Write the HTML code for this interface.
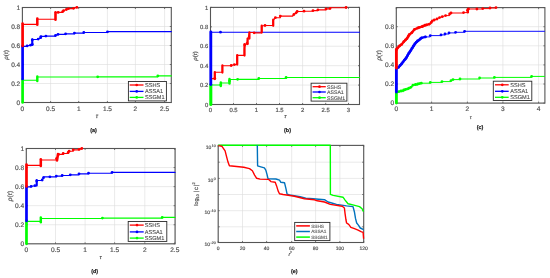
<!DOCTYPE html>
<html><head><meta charset="utf-8"><title>Performance profiles</title>
<style>
html,body{margin:0;padding:0;background:#fff;}
body{width:550px;height:278px;overflow:hidden;}
svg{display:block;font-family:"Liberation Sans", Arial, sans-serif;text-rendering:geometricPrecision;}
text{stroke:#5a5a5a;stroke-width:0.2px;}
text.cap{stroke:#222;}
text.lg{stroke:#666;stroke-width:0.12px;}
</style></head>
<body>
<svg width="550" height="278" viewBox="0 0 550 278">
<rect width="550" height="278" fill="#fff"/>
<line x1="22.4" y1="7.5" x2="22.4" y2="102.5" stroke="#dcdcdc" stroke-width="0.6"/>
<line x1="50.6" y1="7.5" x2="50.6" y2="102.5" stroke="#dcdcdc" stroke-width="0.6"/>
<line x1="78.7" y1="7.5" x2="78.7" y2="102.5" stroke="#dcdcdc" stroke-width="0.6"/>
<line x1="107.4" y1="7.5" x2="107.4" y2="102.5" stroke="#dcdcdc" stroke-width="0.6"/>
<line x1="135.4" y1="7.5" x2="135.4" y2="102.5" stroke="#dcdcdc" stroke-width="0.6"/>
<line x1="164.6" y1="7.5" x2="164.6" y2="102.5" stroke="#dcdcdc" stroke-width="0.6"/>
<line x1="22.4" y1="102.5" x2="171.3" y2="102.5" stroke="#dcdcdc" stroke-width="0.6"/>
<line x1="22.4" y1="83.5" x2="171.3" y2="83.5" stroke="#dcdcdc" stroke-width="0.6"/>
<line x1="22.4" y1="64.5" x2="171.3" y2="64.5" stroke="#dcdcdc" stroke-width="0.6"/>
<line x1="22.4" y1="45.5" x2="171.3" y2="45.5" stroke="#dcdcdc" stroke-width="0.6"/>
<line x1="22.4" y1="26.5" x2="171.3" y2="26.5" stroke="#dcdcdc" stroke-width="0.6"/>
<line x1="22.4" y1="7.5" x2="171.3" y2="7.5" stroke="#dcdcdc" stroke-width="0.6"/>
<rect x="22.4" y="7.5" width="148.9" height="95" fill="none" stroke="#555555" stroke-width="1.1"/>
<line x1="22.4" y1="102.5" x2="22.4" y2="101" stroke="#555555" stroke-width="0.8"/>
<line x1="22.4" y1="7.5" x2="22.4" y2="9" stroke="#555555" stroke-width="0.8"/>
<line x1="50.6" y1="102.5" x2="50.6" y2="101" stroke="#555555" stroke-width="0.8"/>
<line x1="50.6" y1="7.5" x2="50.6" y2="9" stroke="#555555" stroke-width="0.8"/>
<line x1="78.7" y1="102.5" x2="78.7" y2="101" stroke="#555555" stroke-width="0.8"/>
<line x1="78.7" y1="7.5" x2="78.7" y2="9" stroke="#555555" stroke-width="0.8"/>
<line x1="107.4" y1="102.5" x2="107.4" y2="101" stroke="#555555" stroke-width="0.8"/>
<line x1="107.4" y1="7.5" x2="107.4" y2="9" stroke="#555555" stroke-width="0.8"/>
<line x1="135.4" y1="102.5" x2="135.4" y2="101" stroke="#555555" stroke-width="0.8"/>
<line x1="135.4" y1="7.5" x2="135.4" y2="9" stroke="#555555" stroke-width="0.8"/>
<line x1="164.6" y1="102.5" x2="164.6" y2="101" stroke="#555555" stroke-width="0.8"/>
<line x1="164.6" y1="7.5" x2="164.6" y2="9" stroke="#555555" stroke-width="0.8"/>
<line x1="22.4" y1="102.5" x2="23.9" y2="102.5" stroke="#555555" stroke-width="0.8"/>
<line x1="171.3" y1="102.5" x2="169.8" y2="102.5" stroke="#555555" stroke-width="0.8"/>
<line x1="22.4" y1="83.5" x2="23.9" y2="83.5" stroke="#555555" stroke-width="0.8"/>
<line x1="171.3" y1="83.5" x2="169.8" y2="83.5" stroke="#555555" stroke-width="0.8"/>
<line x1="22.4" y1="64.5" x2="23.9" y2="64.5" stroke="#555555" stroke-width="0.8"/>
<line x1="171.3" y1="64.5" x2="169.8" y2="64.5" stroke="#555555" stroke-width="0.8"/>
<line x1="22.4" y1="45.5" x2="23.9" y2="45.5" stroke="#555555" stroke-width="0.8"/>
<line x1="171.3" y1="45.5" x2="169.8" y2="45.5" stroke="#555555" stroke-width="0.8"/>
<line x1="22.4" y1="26.5" x2="23.9" y2="26.5" stroke="#555555" stroke-width="0.8"/>
<line x1="171.3" y1="26.5" x2="169.8" y2="26.5" stroke="#555555" stroke-width="0.8"/>
<line x1="22.4" y1="7.5" x2="23.9" y2="7.5" stroke="#555555" stroke-width="0.8"/>
<line x1="171.3" y1="7.5" x2="169.8" y2="7.5" stroke="#555555" stroke-width="0.8"/>
<polyline points="22.6,102.5 22.6,80.2 37.3,80.2 37.3,77 97.7,77 97.7,76.8 157.8,76.8 157.8,75.9 171.4,75.9 171.4,75.6" fill="none" stroke="#00ff00" stroke-width="1.15" stroke-linejoin="round"/>
<line x1="22.6" y1="102.5" x2="22.6" y2="79.3" stroke="#00ff00" stroke-width="2.65" stroke-linecap="round"/>
<line x1="37.3" y1="81" x2="37.3" y2="76.5" stroke="#00ff00" stroke-width="2.45" stroke-linecap="round"/>
<circle cx="97.7" cy="76.8" r="1.4" fill="#00ff00"/>
<circle cx="157.8" cy="75.9" r="1.4" fill="#00ff00"/>
<polyline points="22.6,79 22.6,46.4 27.1,46.4 27.1,45.9 30.5,45.2 32.3,44.5 32.3,39.5 38.2,39.5 38.2,39.1 40.7,37.7 40.7,36.4 45.9,36.4 45.9,36.1 55.5,36.1 55.5,35.5 58,34.4 65.6,34.4 65.6,33.8 74.4,33.8 74.4,33.1 83.8,33.1 83.8,32.5 107.5,32.5 107.5,31.6 171.4,31.6 171.4,31.3" fill="none" stroke="#0000ff" stroke-width="1.15" stroke-linejoin="round"/>
<line x1="22.6" y1="79" x2="22.6" y2="45.8" stroke="#0000ff" stroke-width="2.65" stroke-linecap="round"/>
<line x1="32.3" y1="44.8" x2="32.3" y2="39.3" stroke="#0000ff" stroke-width="2.05" stroke-linecap="round"/>
<circle cx="22.8" cy="46.4" r="1.4" fill="#0000ff"/>
<circle cx="27.1" cy="45.9" r="1.4" fill="#0000ff"/>
<circle cx="30.5" cy="45.2" r="1.4" fill="#0000ff"/>
<circle cx="32.3" cy="44.5" r="1.4" fill="#0000ff"/>
<circle cx="32.3" cy="40" r="1.4" fill="#0000ff"/>
<circle cx="38.2" cy="39.1" r="1.4" fill="#0000ff"/>
<circle cx="40.7" cy="37.7" r="1.4" fill="#0000ff"/>
<circle cx="40.9" cy="36.6" r="1.4" fill="#0000ff"/>
<circle cx="45.9" cy="36.1" r="1.4" fill="#0000ff"/>
<circle cx="55.5" cy="35.5" r="1.4" fill="#0000ff"/>
<circle cx="58" cy="34.4" r="1.4" fill="#0000ff"/>
<circle cx="65.6" cy="33.8" r="1.4" fill="#0000ff"/>
<circle cx="74.4" cy="33.1" r="1.4" fill="#0000ff"/>
<circle cx="83.8" cy="32.5" r="1.4" fill="#0000ff"/>
<circle cx="107.5" cy="31.8" r="1.4" fill="#0000ff"/>
<polyline points="22.6,46 22.6,24.3 37.3,24.3 37.3,19.2 55.5,19.2 55.5,12.6 58.2,12.4 62.7,12.4 62.7,11.6 63.6,10.7 66.4,9.5 68.6,8.6 73.6,8.6 73.6,8.3 76.8,7.4 78.2,7.4" fill="none" stroke="#ff0000" stroke-width="1.15" stroke-linejoin="round"/>
<line x1="22.6" y1="46" x2="22.6" y2="23.5" stroke="#ff0000" stroke-width="2.65" stroke-linecap="round"/>
<line x1="37.3" y1="24.8" x2="37.3" y2="18.4" stroke="#ff0000" stroke-width="2.55" stroke-linecap="round"/>
<line x1="55.5" y1="19.8" x2="55.5" y2="12.2" stroke="#ff0000" stroke-width="2.55" stroke-linecap="round"/>
<circle cx="58.2" cy="12.4" r="1.4" fill="#ff0000"/>
<circle cx="62.7" cy="11.6" r="1.4" fill="#ff0000"/>
<circle cx="63.6" cy="10.7" r="1.4" fill="#ff0000"/>
<circle cx="66.4" cy="9.5" r="1.4" fill="#ff0000"/>
<circle cx="68.6" cy="8.6" r="1.4" fill="#ff0000"/>
<circle cx="73.6" cy="8.3" r="1.4" fill="#ff0000"/>
<circle cx="76.8" cy="7.4" r="1.4" fill="#ff0000"/>
<text x="22.4" y="110.67" font-size="6.5" text-anchor="middle" fill="#505050">0</text>
<text x="50.6" y="110.67" font-size="6.5" text-anchor="middle" fill="#505050">0.5</text>
<text x="78.7" y="110.67" font-size="6.5" text-anchor="middle" fill="#505050">1</text>
<text x="107.4" y="110.67" font-size="6.5" text-anchor="middle" fill="#505050">1.5</text>
<text x="135.4" y="110.67" font-size="6.5" text-anchor="middle" fill="#505050">2</text>
<text x="164.6" y="110.67" font-size="6.5" text-anchor="middle" fill="#505050">2.5</text>
<text x="20.2" y="104.84" font-size="6.5" text-anchor="end" fill="#505050">0</text>
<text x="20.2" y="85.84" font-size="6.5" text-anchor="end" fill="#505050">0.2</text>
<text x="20.2" y="66.84" font-size="6.5" text-anchor="end" fill="#505050">0.4</text>
<text x="20.2" y="47.84" font-size="6.5" text-anchor="end" fill="#505050">0.6</text>
<text x="20.2" y="28.84" font-size="6.5" text-anchor="end" fill="#505050">0.8</text>
<text x="20.2" y="9.84" font-size="6.5" text-anchor="end" fill="#505050">1</text>
<text x="0" y="0" font-size="6" text-anchor="middle" fill="#505050" transform="translate(8.3,54.8) rotate(-90)"><tspan font-style="italic">&#961;</tspan>(<tspan font-style="italic">&#964;</tspan>)</text>
<text x="96.9" y="118.3" font-size="6" text-anchor="middle" fill="#505050" font-style="italic">&#964;</text>
<text x="93.55" y="131.65" font-size="5.4" text-anchor="middle" fill="#222" font-weight="bold" class="cap">(a)</text>
<rect x="128.4" y="81.5" width="38" height="19.4" fill="#fff" stroke="#2a2a2a" stroke-width="0.9"/>
<line x1="129.7" y1="85" x2="143.5" y2="85" stroke="#ff0000" stroke-width="1.3"/>
<circle cx="136.7" cy="85" r="1.35" fill="#ff0000"/>
<text x="145" y="87.02" font-size="5.6" text-anchor="start" fill="#4a4a4a" class="lg">SSHS</text>
<line x1="129.7" y1="91.4" x2="143.5" y2="91.4" stroke="#0000ff" stroke-width="1.3"/>
<circle cx="136.7" cy="91.4" r="1.35" fill="#0000ff"/>
<text x="145" y="93.42" font-size="5.6" text-anchor="start" fill="#4a4a4a" class="lg">ASSA1</text>
<line x1="129.7" y1="97.4" x2="143.5" y2="97.4" stroke="#00ff00" stroke-width="1.3"/>
<circle cx="136.7" cy="97.4" r="1.35" fill="#00ff00"/>
<text x="145" y="99.42" font-size="5.6" text-anchor="start" fill="#4a4a4a" class="lg">SSGM1</text>
<line x1="210.5" y1="7.4" x2="210.5" y2="104.5" stroke="#dcdcdc" stroke-width="0.6"/>
<line x1="233.5" y1="7.4" x2="233.5" y2="104.5" stroke="#dcdcdc" stroke-width="0.6"/>
<line x1="256.5" y1="7.4" x2="256.5" y2="104.5" stroke="#dcdcdc" stroke-width="0.6"/>
<line x1="279.5" y1="7.4" x2="279.5" y2="104.5" stroke="#dcdcdc" stroke-width="0.6"/>
<line x1="302.6" y1="7.4" x2="302.6" y2="104.5" stroke="#dcdcdc" stroke-width="0.6"/>
<line x1="325.7" y1="7.4" x2="325.7" y2="104.5" stroke="#dcdcdc" stroke-width="0.6"/>
<line x1="348.5" y1="7.4" x2="348.5" y2="104.5" stroke="#dcdcdc" stroke-width="0.6"/>
<line x1="210.5" y1="104.5" x2="359.5" y2="104.5" stroke="#dcdcdc" stroke-width="0.6"/>
<line x1="210.5" y1="85.08" x2="359.5" y2="85.08" stroke="#dcdcdc" stroke-width="0.6"/>
<line x1="210.5" y1="65.66" x2="359.5" y2="65.66" stroke="#dcdcdc" stroke-width="0.6"/>
<line x1="210.5" y1="46.24" x2="359.5" y2="46.24" stroke="#dcdcdc" stroke-width="0.6"/>
<line x1="210.5" y1="26.82" x2="359.5" y2="26.82" stroke="#dcdcdc" stroke-width="0.6"/>
<line x1="210.5" y1="7.4" x2="359.5" y2="7.4" stroke="#dcdcdc" stroke-width="0.6"/>
<rect x="210.5" y="7.4" width="149" height="97.1" fill="none" stroke="#555555" stroke-width="1.1"/>
<line x1="210.5" y1="104.5" x2="210.5" y2="103" stroke="#555555" stroke-width="0.8"/>
<line x1="210.5" y1="7.4" x2="210.5" y2="8.9" stroke="#555555" stroke-width="0.8"/>
<line x1="233.5" y1="104.5" x2="233.5" y2="103" stroke="#555555" stroke-width="0.8"/>
<line x1="233.5" y1="7.4" x2="233.5" y2="8.9" stroke="#555555" stroke-width="0.8"/>
<line x1="256.5" y1="104.5" x2="256.5" y2="103" stroke="#555555" stroke-width="0.8"/>
<line x1="256.5" y1="7.4" x2="256.5" y2="8.9" stroke="#555555" stroke-width="0.8"/>
<line x1="279.5" y1="104.5" x2="279.5" y2="103" stroke="#555555" stroke-width="0.8"/>
<line x1="279.5" y1="7.4" x2="279.5" y2="8.9" stroke="#555555" stroke-width="0.8"/>
<line x1="302.6" y1="104.5" x2="302.6" y2="103" stroke="#555555" stroke-width="0.8"/>
<line x1="302.6" y1="7.4" x2="302.6" y2="8.9" stroke="#555555" stroke-width="0.8"/>
<line x1="325.7" y1="104.5" x2="325.7" y2="103" stroke="#555555" stroke-width="0.8"/>
<line x1="325.7" y1="7.4" x2="325.7" y2="8.9" stroke="#555555" stroke-width="0.8"/>
<line x1="348.5" y1="104.5" x2="348.5" y2="103" stroke="#555555" stroke-width="0.8"/>
<line x1="348.5" y1="7.4" x2="348.5" y2="8.9" stroke="#555555" stroke-width="0.8"/>
<line x1="210.5" y1="104.5" x2="212" y2="104.5" stroke="#555555" stroke-width="0.8"/>
<line x1="359.5" y1="104.5" x2="358" y2="104.5" stroke="#555555" stroke-width="0.8"/>
<line x1="210.5" y1="85.08" x2="212" y2="85.08" stroke="#555555" stroke-width="0.8"/>
<line x1="359.5" y1="85.08" x2="358" y2="85.08" stroke="#555555" stroke-width="0.8"/>
<line x1="210.5" y1="65.66" x2="212" y2="65.66" stroke="#555555" stroke-width="0.8"/>
<line x1="359.5" y1="65.66" x2="358" y2="65.66" stroke="#555555" stroke-width="0.8"/>
<line x1="210.5" y1="46.24" x2="212" y2="46.24" stroke="#555555" stroke-width="0.8"/>
<line x1="359.5" y1="46.24" x2="358" y2="46.24" stroke="#555555" stroke-width="0.8"/>
<line x1="210.5" y1="26.82" x2="212" y2="26.82" stroke="#555555" stroke-width="0.8"/>
<line x1="359.5" y1="26.82" x2="358" y2="26.82" stroke="#555555" stroke-width="0.8"/>
<line x1="210.5" y1="7.4" x2="212" y2="7.4" stroke="#555555" stroke-width="0.8"/>
<line x1="359.5" y1="7.4" x2="358" y2="7.4" stroke="#555555" stroke-width="0.8"/>
<polyline points="210.8,104.5 210.8,85 220.8,85 220.8,83 229.5,83 229.5,79.5 237.6,79.5 237.6,79.3 258.8,79.3 258.8,78.5 286.1,78.5 286.1,77.5 359.5,77.5 359.5,77.1" fill="none" stroke="#00ff00" stroke-width="1.15" stroke-linejoin="round"/>
<line x1="210.8" y1="104.5" x2="210.8" y2="84.5" stroke="#00ff00" stroke-width="3.05" stroke-linecap="round"/>
<line x1="220.8" y1="86" x2="220.8" y2="82.5" stroke="#00ff00" stroke-width="2.45" stroke-linecap="round"/>
<line x1="229.5" y1="83.5" x2="229.5" y2="79" stroke="#00ff00" stroke-width="2.45" stroke-linecap="round"/>
<circle cx="220.8" cy="84.8" r="1.4" fill="#00ff00"/>
<circle cx="229.5" cy="81" r="1.4" fill="#00ff00"/>
<circle cx="237.6" cy="79.3" r="1.4" fill="#00ff00"/>
<circle cx="258.8" cy="78.5" r="1.4" fill="#00ff00"/>
<circle cx="286.1" cy="77.5" r="1.4" fill="#00ff00"/>
<polyline points="210.8,84.5 210.8,32.2 220.5,32.2 359.5,32.2 359.5,31.8" fill="none" stroke="#0000ff" stroke-width="1.15" stroke-linejoin="round"/>
<line x1="210.8" y1="84.5" x2="210.8" y2="31.8" stroke="#0000ff" stroke-width="2.85" stroke-linecap="round"/>
<circle cx="220.5" cy="32.2" r="1.4" fill="#0000ff"/>
<polyline points="212,78.6 214.8,78.6 214.8,72.2 222.4,72.2 222.4,65.7 231.2,65.7 231.2,65.5 234.4,64.6 237.2,64.4 237.2,55.4 244.3,55.4 244.3,49.4 244.8,45.1 247,43.4 247.5,40.2 249.4,33.1 249.5,32.5 254.1,32.5 254.1,32.8 261.7,32.8 261.7,32 261.7,26 265,25.5 273.2,25.5 273.2,20.4 275.4,17.7 280.3,17.7 280.3,16.1 292.8,16.1 292.8,15.5 293.9,14.5 296.1,12.8 297.2,11.5 304,11.5 304,11.2 313,11.2 313,10.6 317.9,10.6 317.9,9.8 326,9.8 326,8.9 330,8.9 330,8.4 331,7.7 346.1,7.7 346.1,7.5" fill="none" stroke="#ff0000" stroke-width="1.15" stroke-linejoin="round"/>
<line x1="214.8" y1="79" x2="214.8" y2="72" stroke="#ff0000" stroke-width="2.25" stroke-linecap="round"/>
<line x1="222.4" y1="72.6" x2="222.4" y2="65.4" stroke="#ff0000" stroke-width="2.25" stroke-linecap="round"/>
<line x1="237.2" y1="64.6" x2="237.2" y2="55" stroke="#ff0000" stroke-width="2.25" stroke-linecap="round"/>
<line x1="244.5" y1="55.6" x2="244.5" y2="44" stroke="#ff0000" stroke-width="2.25" stroke-linecap="round"/>
<line x1="247.6" y1="44" x2="247.6" y2="38.5" stroke="#ff0000" stroke-width="2.25" stroke-linecap="round"/>
<line x1="249.4" y1="38.5" x2="249.4" y2="32.4" stroke="#ff0000" stroke-width="2.25" stroke-linecap="round"/>
<line x1="261.7" y1="32.4" x2="261.7" y2="25.7" stroke="#ff0000" stroke-width="2.25" stroke-linecap="round"/>
<line x1="273.2" y1="25.8" x2="273.2" y2="19.5" stroke="#ff0000" stroke-width="2.25" stroke-linecap="round"/>
<circle cx="214.8" cy="78.4" r="1.4" fill="#ff0000"/>
<circle cx="231.2" cy="65.5" r="1.4" fill="#ff0000"/>
<circle cx="234.4" cy="64.6" r="1.4" fill="#ff0000"/>
<circle cx="244.8" cy="45.1" r="1.4" fill="#ff0000"/>
<circle cx="247" cy="43.4" r="1.4" fill="#ff0000"/>
<circle cx="254.1" cy="32.8" r="1.4" fill="#ff0000"/>
<circle cx="265" cy="25.5" r="1.4" fill="#ff0000"/>
<circle cx="275.4" cy="17.7" r="1.4" fill="#ff0000"/>
<circle cx="280.3" cy="16.1" r="1.4" fill="#ff0000"/>
<circle cx="293.9" cy="14.5" r="1.4" fill="#ff0000"/>
<circle cx="296.1" cy="12.8" r="1.4" fill="#ff0000"/>
<circle cx="297.2" cy="11.5" r="1.4" fill="#ff0000"/>
<circle cx="304" cy="11.2" r="1.4" fill="#ff0000"/>
<circle cx="313" cy="10.6" r="1.4" fill="#ff0000"/>
<circle cx="317.9" cy="9.8" r="1.4" fill="#ff0000"/>
<circle cx="326" cy="8.9" r="1.4" fill="#ff0000"/>
<circle cx="330" cy="8.4" r="1.4" fill="#ff0000"/>
<circle cx="346.1" cy="7.5" r="1.4" fill="#ff0000"/>
<text x="210.5" y="111.6" font-size="5.9" text-anchor="middle" fill="#505050">0</text>
<text x="233.5" y="111.6" font-size="5.9" text-anchor="middle" fill="#505050">0.5</text>
<text x="256.5" y="111.6" font-size="5.9" text-anchor="middle" fill="#505050">1</text>
<text x="279.5" y="111.6" font-size="5.9" text-anchor="middle" fill="#505050">1.5</text>
<text x="302.6" y="111.6" font-size="5.9" text-anchor="middle" fill="#505050">2</text>
<text x="325.7" y="111.6" font-size="5.9" text-anchor="middle" fill="#505050">2.5</text>
<text x="348.5" y="111.6" font-size="5.9" text-anchor="middle" fill="#505050">3</text>
<text x="208.3" y="106.62" font-size="5.9" text-anchor="end" fill="#505050">0</text>
<text x="208.3" y="87.2" font-size="5.9" text-anchor="end" fill="#505050">0.2</text>
<text x="208.3" y="67.78" font-size="5.9" text-anchor="end" fill="#505050">0.4</text>
<text x="208.3" y="48.36" font-size="5.9" text-anchor="end" fill="#505050">0.6</text>
<text x="208.3" y="28.94" font-size="5.9" text-anchor="end" fill="#505050">0.8</text>
<text x="208.3" y="9.52" font-size="5.9" text-anchor="end" fill="#505050">1</text>
<text x="0" y="0" font-size="5.8" text-anchor="middle" fill="#505050" transform="translate(196.6,56) rotate(-90)"><tspan font-style="italic">&#961;</tspan>(<tspan font-style="italic">&#964;</tspan>)</text>
<text x="285.3" y="118" font-size="5.6" text-anchor="middle" fill="#505050" font-style="italic">&#964;</text>
<text x="287.5" y="131.7" font-size="5.4" text-anchor="middle" fill="#222" font-weight="bold" class="cap">(b)</text>
<rect x="311.1" y="83.2" width="35.8" height="17.9" fill="#fff" stroke="#2a2a2a" stroke-width="0.9"/>
<line x1="312.6" y1="86.7" x2="325.8" y2="86.7" stroke="#ff0000" stroke-width="1.3"/>
<circle cx="319.5" cy="86.7" r="1.35" fill="#ff0000"/>
<text x="327" y="88.57" font-size="5.2" text-anchor="start" fill="#4a4a4a" class="lg">SSHS</text>
<line x1="312.6" y1="92" x2="325.8" y2="92" stroke="#0000ff" stroke-width="1.3"/>
<circle cx="319.5" cy="92" r="1.35" fill="#0000ff"/>
<text x="327" y="93.87" font-size="5.2" text-anchor="start" fill="#4a4a4a" class="lg">ASSA1</text>
<line x1="312.6" y1="97.7" x2="325.8" y2="97.7" stroke="#00ff00" stroke-width="1.3"/>
<circle cx="319.5" cy="97.7" r="1.35" fill="#00ff00"/>
<text x="327" y="99.57" font-size="5.2" text-anchor="start" fill="#4a4a4a" class="lg">SSGM1</text>
<line x1="396.3" y1="7.6" x2="396.3" y2="103.1" stroke="#dcdcdc" stroke-width="0.6"/>
<line x1="431.6" y1="7.6" x2="431.6" y2="103.1" stroke="#dcdcdc" stroke-width="0.6"/>
<line x1="467.4" y1="7.6" x2="467.4" y2="103.1" stroke="#dcdcdc" stroke-width="0.6"/>
<line x1="502.9" y1="7.6" x2="502.9" y2="103.1" stroke="#dcdcdc" stroke-width="0.6"/>
<line x1="538.6" y1="7.6" x2="538.6" y2="103.1" stroke="#dcdcdc" stroke-width="0.6"/>
<line x1="396.3" y1="103.1" x2="544.9" y2="103.1" stroke="#dcdcdc" stroke-width="0.6"/>
<line x1="396.3" y1="84" x2="544.9" y2="84" stroke="#dcdcdc" stroke-width="0.6"/>
<line x1="396.3" y1="64.9" x2="544.9" y2="64.9" stroke="#dcdcdc" stroke-width="0.6"/>
<line x1="396.3" y1="45.8" x2="544.9" y2="45.8" stroke="#dcdcdc" stroke-width="0.6"/>
<line x1="396.3" y1="26.7" x2="544.9" y2="26.7" stroke="#dcdcdc" stroke-width="0.6"/>
<line x1="396.3" y1="7.6" x2="544.9" y2="7.6" stroke="#dcdcdc" stroke-width="0.6"/>
<rect x="396.3" y="7.6" width="148.6" height="95.5" fill="none" stroke="#555555" stroke-width="1.1"/>
<line x1="396.3" y1="103.1" x2="396.3" y2="101.6" stroke="#555555" stroke-width="0.8"/>
<line x1="396.3" y1="7.6" x2="396.3" y2="9.1" stroke="#555555" stroke-width="0.8"/>
<line x1="431.6" y1="103.1" x2="431.6" y2="101.6" stroke="#555555" stroke-width="0.8"/>
<line x1="431.6" y1="7.6" x2="431.6" y2="9.1" stroke="#555555" stroke-width="0.8"/>
<line x1="467.4" y1="103.1" x2="467.4" y2="101.6" stroke="#555555" stroke-width="0.8"/>
<line x1="467.4" y1="7.6" x2="467.4" y2="9.1" stroke="#555555" stroke-width="0.8"/>
<line x1="502.9" y1="103.1" x2="502.9" y2="101.6" stroke="#555555" stroke-width="0.8"/>
<line x1="502.9" y1="7.6" x2="502.9" y2="9.1" stroke="#555555" stroke-width="0.8"/>
<line x1="538.6" y1="103.1" x2="538.6" y2="101.6" stroke="#555555" stroke-width="0.8"/>
<line x1="538.6" y1="7.6" x2="538.6" y2="9.1" stroke="#555555" stroke-width="0.8"/>
<line x1="396.3" y1="103.1" x2="397.8" y2="103.1" stroke="#555555" stroke-width="0.8"/>
<line x1="544.9" y1="103.1" x2="543.4" y2="103.1" stroke="#555555" stroke-width="0.8"/>
<line x1="396.3" y1="84" x2="397.8" y2="84" stroke="#555555" stroke-width="0.8"/>
<line x1="544.9" y1="84" x2="543.4" y2="84" stroke="#555555" stroke-width="0.8"/>
<line x1="396.3" y1="64.9" x2="397.8" y2="64.9" stroke="#555555" stroke-width="0.8"/>
<line x1="544.9" y1="64.9" x2="543.4" y2="64.9" stroke="#555555" stroke-width="0.8"/>
<line x1="396.3" y1="45.8" x2="397.8" y2="45.8" stroke="#555555" stroke-width="0.8"/>
<line x1="544.9" y1="45.8" x2="543.4" y2="45.8" stroke="#555555" stroke-width="0.8"/>
<line x1="396.3" y1="26.7" x2="397.8" y2="26.7" stroke="#555555" stroke-width="0.8"/>
<line x1="544.9" y1="26.7" x2="543.4" y2="26.7" stroke="#555555" stroke-width="0.8"/>
<line x1="396.3" y1="7.6" x2="397.8" y2="7.6" stroke="#555555" stroke-width="0.8"/>
<line x1="544.9" y1="7.6" x2="543.4" y2="7.6" stroke="#555555" stroke-width="0.8"/>
<polyline points="396.4,103.1 396.4,92.1 398.9,91.6 403.8,91.6 403.8,90 407.6,88.9 410.8,87.3 413,85.1 417.8,85.1 417.8,84 421.3,83.2 430.3,83.2 430.3,82.4 442,82.4 442,81.6 451,81.6 451,80.6 453,79.6 460,79.6 460,79 479.6,79 479.6,78 494.4,78 494.4,77.4 531.6,77.4 531.6,76.4 544.9,76.4 544.9,76.3" fill="none" stroke="#00ff00" stroke-width="1.0" stroke-linejoin="round"/>
<line x1="396.4" y1="103.1" x2="396.4" y2="91.8" stroke="#00ff00" stroke-width="2.85" stroke-linecap="round"/>
<circle cx="398.9" cy="91.6" r="1.4" fill="#00ff00"/>
<circle cx="403.8" cy="90" r="1.4" fill="#00ff00"/>
<circle cx="407.6" cy="88.9" r="1.4" fill="#00ff00"/>
<circle cx="410.8" cy="87.3" r="1.4" fill="#00ff00"/>
<circle cx="413" cy="85.1" r="1.4" fill="#00ff00"/>
<circle cx="417.8" cy="84" r="1.4" fill="#00ff00"/>
<circle cx="421.3" cy="83.2" r="1.4" fill="#00ff00"/>
<circle cx="430.3" cy="82.4" r="1.4" fill="#00ff00"/>
<circle cx="442" cy="81.6" r="1.4" fill="#00ff00"/>
<circle cx="451" cy="80.6" r="1.4" fill="#00ff00"/>
<circle cx="453" cy="79.6" r="1.4" fill="#00ff00"/>
<circle cx="460" cy="79" r="1.4" fill="#00ff00"/>
<circle cx="479.6" cy="78" r="1.4" fill="#00ff00"/>
<circle cx="494.4" cy="77.4" r="1.4" fill="#00ff00"/>
<circle cx="531.6" cy="76.4" r="1.4" fill="#00ff00"/>
<circle cx="401" cy="91" r="1.4" fill="#00ff00"/>
<circle cx="405.5" cy="89.5" r="1.4" fill="#00ff00"/>
<circle cx="409" cy="88.2" r="1.4" fill="#00ff00"/>
<circle cx="415.5" cy="84.5" r="1.4" fill="#00ff00"/>
<circle cx="419.5" cy="83.6" r="1.4" fill="#00ff00"/>
<polyline points="396.4,92.1 398.9,91.6 403.8,90 407.6,88.9 410.8,87.3 413,85.1 417.8,84 421.3,83.2" fill="none" stroke="#00ff00" stroke-width="1.7" stroke-linejoin="round" stroke-linecap="round"/>
<polyline points="396.4,92 396.4,68 398.6,67.3 401.5,64 404.4,60.1 406.5,57.5 408.7,53.5 410.8,50.4 413.5,46 416.2,42.3 418.9,40.1 421.6,37.9 425.4,36.9 430.3,36.9 430.3,35.6 441,35.6 441,34.9 445,34.9 445,34 449,34 449,32.9 455.6,32.9 455.6,32.3 464.6,32.3 464.6,31.3 544.9,31.3" fill="none" stroke="#0000ff" stroke-width="0.95" stroke-linejoin="round"/>
<line x1="396.4" y1="92" x2="396.4" y2="67.5" stroke="#0000ff" stroke-width="2.85" stroke-linecap="round"/>
<circle cx="398.6" cy="67.3" r="1.4" fill="#0000ff"/>
<circle cx="401.5" cy="64" r="1.4" fill="#0000ff"/>
<circle cx="404.4" cy="60.1" r="1.4" fill="#0000ff"/>
<circle cx="406.5" cy="57.5" r="1.4" fill="#0000ff"/>
<circle cx="408.7" cy="53.5" r="1.4" fill="#0000ff"/>
<circle cx="410.8" cy="50.4" r="1.4" fill="#0000ff"/>
<circle cx="413.5" cy="46" r="1.4" fill="#0000ff"/>
<circle cx="416.2" cy="42.3" r="1.4" fill="#0000ff"/>
<circle cx="418.9" cy="40.1" r="1.4" fill="#0000ff"/>
<circle cx="421.6" cy="37.9" r="1.4" fill="#0000ff"/>
<circle cx="425.4" cy="36.9" r="1.4" fill="#0000ff"/>
<circle cx="430.3" cy="35.6" r="1.4" fill="#0000ff"/>
<circle cx="441" cy="34.9" r="1.4" fill="#0000ff"/>
<circle cx="445" cy="34" r="1.4" fill="#0000ff"/>
<circle cx="449" cy="32.9" r="1.4" fill="#0000ff"/>
<circle cx="455.6" cy="32.3" r="1.4" fill="#0000ff"/>
<circle cx="464.6" cy="31.3" r="1.4" fill="#0000ff"/>
<circle cx="400" cy="65.5" r="1.4" fill="#0000ff"/>
<circle cx="403" cy="62" r="1.4" fill="#0000ff"/>
<circle cx="405.5" cy="59" r="1.4" fill="#0000ff"/>
<circle cx="407.6" cy="55.5" r="1.4" fill="#0000ff"/>
<circle cx="409.8" cy="52" r="1.4" fill="#0000ff"/>
<circle cx="412" cy="48.2" r="1.4" fill="#0000ff"/>
<circle cx="414.8" cy="44" r="1.4" fill="#0000ff"/>
<circle cx="417.5" cy="41" r="1.4" fill="#0000ff"/>
<circle cx="420.2" cy="39" r="1.4" fill="#0000ff"/>
<polyline points="396.4,68 398.6,67.3 401.5,64 404.4,60.1 406.5,57.5 408.7,53.5 410.8,50.4 413.5,46 416.2,42.3 418.9,40.1 421.6,37.9 425.4,36.9" fill="none" stroke="#0000ff" stroke-width="2.4" stroke-linejoin="round" stroke-linecap="round"/>
<polyline points="396.4,68 396.4,50 397.3,48.2 399.5,46 401.6,44.4 403.8,41.7 405.5,40 407,38.5 408.2,36.5 409.2,34.7 411.9,32.6 414.6,29.3 417.8,28 419.4,27.3 422.1,26.6 423,26.1 426.6,24.8 429.4,24.1 431.2,22.5 432.3,21 434.3,20 437,19 439.6,17.6 442.3,16.7 445.6,15.6 449.6,15.6 449.6,14 451,13 463.6,13 463.6,12.6 467.6,12.6 467.6,10.3 468.5,9 476.9,9 482.8,9 482.8,8.6 490,8.6 490,8 496,8 496,7.6" fill="none" stroke="#ff0000" stroke-width="1.0" stroke-linejoin="round"/>
<line x1="396.4" y1="68" x2="396.4" y2="49.5" stroke="#ff0000" stroke-width="2.85" stroke-linecap="round"/>
<line x1="467.8" y1="12.2" x2="467.8" y2="9.5" stroke="#ff0000" stroke-width="2.45" stroke-linecap="round"/>
<circle cx="397.3" cy="48.2" r="1.4" fill="#ff0000"/>
<circle cx="399.5" cy="46" r="1.4" fill="#ff0000"/>
<circle cx="401.6" cy="44.4" r="1.4" fill="#ff0000"/>
<circle cx="403.8" cy="41.7" r="1.4" fill="#ff0000"/>
<circle cx="405.5" cy="40" r="1.4" fill="#ff0000"/>
<circle cx="407" cy="38.5" r="1.4" fill="#ff0000"/>
<circle cx="408.2" cy="36.5" r="1.4" fill="#ff0000"/>
<circle cx="409.2" cy="34.7" r="1.4" fill="#ff0000"/>
<circle cx="411.9" cy="32.6" r="1.4" fill="#ff0000"/>
<circle cx="414.6" cy="29.3" r="1.4" fill="#ff0000"/>
<circle cx="417.8" cy="28" r="1.4" fill="#ff0000"/>
<circle cx="419.4" cy="27.3" r="1.4" fill="#ff0000"/>
<circle cx="422.1" cy="26.6" r="1.4" fill="#ff0000"/>
<circle cx="423" cy="26.1" r="1.4" fill="#ff0000"/>
<circle cx="426.6" cy="24.8" r="1.4" fill="#ff0000"/>
<circle cx="429.4" cy="24.1" r="1.4" fill="#ff0000"/>
<circle cx="431.2" cy="22.5" r="1.4" fill="#ff0000"/>
<circle cx="432.3" cy="21" r="1.4" fill="#ff0000"/>
<circle cx="434.3" cy="20" r="1.4" fill="#ff0000"/>
<circle cx="437" cy="19" r="1.4" fill="#ff0000"/>
<circle cx="439.6" cy="17.6" r="1.4" fill="#ff0000"/>
<circle cx="442.3" cy="16.7" r="1.4" fill="#ff0000"/>
<circle cx="445.6" cy="15.6" r="1.4" fill="#ff0000"/>
<circle cx="449.6" cy="14" r="1.4" fill="#ff0000"/>
<circle cx="451" cy="13" r="1.4" fill="#ff0000"/>
<circle cx="463.6" cy="12.6" r="1.4" fill="#ff0000"/>
<circle cx="467.6" cy="10.3" r="1.4" fill="#ff0000"/>
<circle cx="468.5" cy="9" r="1.4" fill="#ff0000"/>
<circle cx="476.9" cy="9" r="1.4" fill="#ff0000"/>
<circle cx="482.8" cy="8.6" r="1.4" fill="#ff0000"/>
<circle cx="490" cy="8" r="1.4" fill="#ff0000"/>
<circle cx="496" cy="7.6" r="1.4" fill="#ff0000"/>
<circle cx="425" cy="25.2" r="1.4" fill="#ff0000"/>
<polyline points="396.4,50 397.3,48.2 399.5,46 401.6,44.4 403.8,41.7 405.5,40 407,38.5 408.2,36.5 409.2,34.7 411.9,32.6 414.6,29.3 417.8,28 419.4,27.3 422.1,26.6 423,26.1 426.6,24.8 429.4,24.1" fill="none" stroke="#ff0000" stroke-width="2.4" stroke-linejoin="round" stroke-linecap="round"/>
<text x="396.3" y="110.85" font-size="6.6" text-anchor="middle" fill="#505050">0</text>
<text x="431.6" y="110.85" font-size="6.6" text-anchor="middle" fill="#505050">1</text>
<text x="467.4" y="110.85" font-size="6.6" text-anchor="middle" fill="#505050">2</text>
<text x="502.9" y="110.85" font-size="6.6" text-anchor="middle" fill="#505050">3</text>
<text x="538.6" y="110.85" font-size="6.6" text-anchor="middle" fill="#505050">4</text>
<text x="394.1" y="105.48" font-size="6.6" text-anchor="end" fill="#505050">0</text>
<text x="394.1" y="86.38" font-size="6.6" text-anchor="end" fill="#505050">0.2</text>
<text x="394.1" y="67.28" font-size="6.6" text-anchor="end" fill="#505050">0.4</text>
<text x="394.1" y="48.18" font-size="6.6" text-anchor="end" fill="#505050">0.6</text>
<text x="394.1" y="29.08" font-size="6.6" text-anchor="end" fill="#505050">0.8</text>
<text x="0" y="0" font-size="6.4" text-anchor="middle" fill="#505050" transform="translate(381.2,55.4) rotate(-90)"><tspan font-style="italic">&#961;</tspan>(<tspan font-style="italic">&#964;</tspan>)</text>
<text x="470.8" y="118.8" font-size="5.2" text-anchor="middle" fill="#505050" font-style="italic">&#964;</text>
<text x="480" y="129" font-size="5.4" text-anchor="middle" fill="#222" font-weight="bold" class="cap">(c)</text>
<rect x="493.3" y="81.2" width="38.5" height="19.3" fill="#fff" stroke="#2a2a2a" stroke-width="0.9"/>
<line x1="495" y1="84.8" x2="508.7" y2="84.8" stroke="#ff0000" stroke-width="1.3"/>
<circle cx="502.3" cy="84.8" r="1.35" fill="#ff0000"/>
<text x="510.2" y="86.82" font-size="5.6" text-anchor="start" fill="#4a4a4a" class="lg">SSHS</text>
<line x1="495" y1="91.3" x2="508.7" y2="91.3" stroke="#0000ff" stroke-width="1.3"/>
<circle cx="502.3" cy="91.3" r="1.35" fill="#0000ff"/>
<text x="510.2" y="93.32" font-size="5.6" text-anchor="start" fill="#4a4a4a" class="lg">ASSA1</text>
<line x1="495" y1="97.3" x2="508.7" y2="97.3" stroke="#00ff00" stroke-width="1.3"/>
<circle cx="502.3" cy="97.3" r="1.35" fill="#00ff00"/>
<text x="510.2" y="99.32" font-size="5.6" text-anchor="start" fill="#4a4a4a" class="lg">SSGM1</text>
<line x1="26.3" y1="148.5" x2="26.3" y2="243.8" stroke="#dcdcdc" stroke-width="0.6"/>
<line x1="55.5" y1="148.5" x2="55.5" y2="243.8" stroke="#dcdcdc" stroke-width="0.6"/>
<line x1="85.1" y1="148.5" x2="85.1" y2="243.8" stroke="#dcdcdc" stroke-width="0.6"/>
<line x1="114.6" y1="148.5" x2="114.6" y2="243.8" stroke="#dcdcdc" stroke-width="0.6"/>
<line x1="144.8" y1="148.5" x2="144.8" y2="243.8" stroke="#dcdcdc" stroke-width="0.6"/>
<line x1="174.8" y1="148.5" x2="174.8" y2="243.8" stroke="#dcdcdc" stroke-width="0.6"/>
<line x1="26.3" y1="243.8" x2="175.1" y2="243.8" stroke="#dcdcdc" stroke-width="0.6"/>
<line x1="26.3" y1="224.74" x2="175.1" y2="224.74" stroke="#dcdcdc" stroke-width="0.6"/>
<line x1="26.3" y1="205.68" x2="175.1" y2="205.68" stroke="#dcdcdc" stroke-width="0.6"/>
<line x1="26.3" y1="186.62" x2="175.1" y2="186.62" stroke="#dcdcdc" stroke-width="0.6"/>
<line x1="26.3" y1="167.56" x2="175.1" y2="167.56" stroke="#dcdcdc" stroke-width="0.6"/>
<line x1="26.3" y1="148.5" x2="175.1" y2="148.5" stroke="#dcdcdc" stroke-width="0.6"/>
<rect x="26.3" y="148.5" width="148.8" height="95.3" fill="none" stroke="#555555" stroke-width="1.1"/>
<line x1="26.3" y1="243.8" x2="26.3" y2="242.3" stroke="#555555" stroke-width="0.8"/>
<line x1="26.3" y1="148.5" x2="26.3" y2="150" stroke="#555555" stroke-width="0.8"/>
<line x1="55.5" y1="243.8" x2="55.5" y2="242.3" stroke="#555555" stroke-width="0.8"/>
<line x1="55.5" y1="148.5" x2="55.5" y2="150" stroke="#555555" stroke-width="0.8"/>
<line x1="85.1" y1="243.8" x2="85.1" y2="242.3" stroke="#555555" stroke-width="0.8"/>
<line x1="85.1" y1="148.5" x2="85.1" y2="150" stroke="#555555" stroke-width="0.8"/>
<line x1="114.6" y1="243.8" x2="114.6" y2="242.3" stroke="#555555" stroke-width="0.8"/>
<line x1="114.6" y1="148.5" x2="114.6" y2="150" stroke="#555555" stroke-width="0.8"/>
<line x1="144.8" y1="243.8" x2="144.8" y2="242.3" stroke="#555555" stroke-width="0.8"/>
<line x1="144.8" y1="148.5" x2="144.8" y2="150" stroke="#555555" stroke-width="0.8"/>
<line x1="174.8" y1="243.8" x2="174.8" y2="242.3" stroke="#555555" stroke-width="0.8"/>
<line x1="174.8" y1="148.5" x2="174.8" y2="150" stroke="#555555" stroke-width="0.8"/>
<line x1="26.3" y1="243.8" x2="27.8" y2="243.8" stroke="#555555" stroke-width="0.8"/>
<line x1="175.1" y1="243.8" x2="173.6" y2="243.8" stroke="#555555" stroke-width="0.8"/>
<line x1="26.3" y1="224.74" x2="27.8" y2="224.74" stroke="#555555" stroke-width="0.8"/>
<line x1="175.1" y1="224.74" x2="173.6" y2="224.74" stroke="#555555" stroke-width="0.8"/>
<line x1="26.3" y1="205.68" x2="27.8" y2="205.68" stroke="#555555" stroke-width="0.8"/>
<line x1="175.1" y1="205.68" x2="173.6" y2="205.68" stroke="#555555" stroke-width="0.8"/>
<line x1="26.3" y1="186.62" x2="27.8" y2="186.62" stroke="#555555" stroke-width="0.8"/>
<line x1="175.1" y1="186.62" x2="173.6" y2="186.62" stroke="#555555" stroke-width="0.8"/>
<line x1="26.3" y1="167.56" x2="27.8" y2="167.56" stroke="#555555" stroke-width="0.8"/>
<line x1="175.1" y1="167.56" x2="173.6" y2="167.56" stroke="#555555" stroke-width="0.8"/>
<line x1="26.3" y1="148.5" x2="27.8" y2="148.5" stroke="#555555" stroke-width="0.8"/>
<line x1="175.1" y1="148.5" x2="173.6" y2="148.5" stroke="#555555" stroke-width="0.8"/>
<polyline points="26.5,243.8 26.5,221.4 40.8,221.4 40.8,218.5 102.4,218.5 102.4,218.1 162.2,218.1 162.2,217.4 175.1,217.4 175.1,217.2" fill="none" stroke="#00ff00" stroke-width="1.15" stroke-linejoin="round"/>
<line x1="26.5" y1="243.8" x2="26.5" y2="220.6" stroke="#00ff00" stroke-width="2.65" stroke-linecap="round"/>
<line x1="40.8" y1="222.2" x2="40.8" y2="217.5" stroke="#00ff00" stroke-width="2.45" stroke-linecap="round"/>
<circle cx="102.4" cy="218.1" r="1.4" fill="#00ff00"/>
<circle cx="162.2" cy="217.4" r="1.4" fill="#00ff00"/>
<polyline points="26.5,221 26.5,186.8 31.1,186.8 31.1,186.4 34.9,185.7 36.7,185.2 36.7,180.5 42.2,180.5 42.2,180 43.5,177.7 43.5,176.8 49.9,176.8 56.3,176.8 56.3,176.1 62.2,176.1 62.2,175.5 70.3,175.5 70.3,174.8 79,174.8 79,173.8 88.5,173.8 88.5,173.2 112.1,173.2 112.1,172.3 175.1,172.3 175.1,171.9" fill="none" stroke="#0000ff" stroke-width="1.15" stroke-linejoin="round"/>
<line x1="26.5" y1="221" x2="26.5" y2="186.2" stroke="#0000ff" stroke-width="2.65" stroke-linecap="round"/>
<line x1="36.7" y1="185.6" x2="36.7" y2="180" stroke="#0000ff" stroke-width="2.05" stroke-linecap="round"/>
<circle cx="26.7" cy="186.8" r="1.4" fill="#0000ff"/>
<circle cx="31.1" cy="186.4" r="1.4" fill="#0000ff"/>
<circle cx="34.9" cy="185.7" r="1.4" fill="#0000ff"/>
<circle cx="36.7" cy="181" r="1.4" fill="#0000ff"/>
<circle cx="42.2" cy="180" r="1.4" fill="#0000ff"/>
<circle cx="43.5" cy="177.7" r="1.4" fill="#0000ff"/>
<circle cx="49.9" cy="176.8" r="1.4" fill="#0000ff"/>
<circle cx="56.3" cy="176.1" r="1.4" fill="#0000ff"/>
<circle cx="62.2" cy="175.5" r="1.4" fill="#0000ff"/>
<circle cx="70.3" cy="174.8" r="1.4" fill="#0000ff"/>
<circle cx="79" cy="173.8" r="1.4" fill="#0000ff"/>
<circle cx="88.5" cy="173.2" r="1.4" fill="#0000ff"/>
<circle cx="112.1" cy="172.3" r="1.4" fill="#0000ff"/>
<polyline points="26.5,186.5 26.5,165.3 40.8,165.3 40.8,160 56.3,160 56.5,158.6 58.6,154.4 63.2,154.4 63.2,153.5 68.2,153.5 68.2,152.5 69.1,151.2 73.2,151.2 73.2,149.8 79.1,149.8 79.1,149.4 81.8,148.5" fill="none" stroke="#ff0000" stroke-width="1.15" stroke-linejoin="round"/>
<line x1="26.5" y1="186.5" x2="26.5" y2="164.5" stroke="#ff0000" stroke-width="2.65" stroke-linecap="round"/>
<line x1="40.8" y1="166" x2="40.8" y2="159.3" stroke="#ff0000" stroke-width="2.55" stroke-linecap="round"/>
<line x1="57" y1="160.5" x2="58" y2="154" stroke="#ff0000" stroke-width="2.55" stroke-linecap="round"/>
<circle cx="58.6" cy="154.4" r="1.4" fill="#ff0000"/>
<circle cx="63.2" cy="153.5" r="1.4" fill="#ff0000"/>
<circle cx="68.2" cy="152.5" r="1.4" fill="#ff0000"/>
<circle cx="69.1" cy="151.2" r="1.4" fill="#ff0000"/>
<circle cx="73.2" cy="149.8" r="1.4" fill="#ff0000"/>
<circle cx="79.1" cy="149.4" r="1.4" fill="#ff0000"/>
<circle cx="81.8" cy="148.5" r="1.4" fill="#ff0000"/>
<circle cx="56.5" cy="158.6" r="1.4" fill="#ff0000"/>
<text x="26.3" y="252" font-size="6.6" text-anchor="middle" fill="#505050">0</text>
<text x="55.5" y="252" font-size="6.6" text-anchor="middle" fill="#505050">0.5</text>
<text x="85.1" y="252" font-size="6.6" text-anchor="middle" fill="#505050">1</text>
<text x="114.6" y="252" font-size="6.6" text-anchor="middle" fill="#505050">1.5</text>
<text x="144.8" y="252" font-size="6.6" text-anchor="middle" fill="#505050">2</text>
<text x="174.8" y="252" font-size="6.6" text-anchor="middle" fill="#505050">2.5</text>
<text x="24.1" y="246.18" font-size="6.6" text-anchor="end" fill="#505050">0</text>
<text x="24.1" y="227.12" font-size="6.6" text-anchor="end" fill="#505050">0.2</text>
<text x="24.1" y="208.06" font-size="6.6" text-anchor="end" fill="#505050">0.4</text>
<text x="24.1" y="189" font-size="6.6" text-anchor="end" fill="#505050">0.6</text>
<text x="24.1" y="169.94" font-size="6.6" text-anchor="end" fill="#505050">0.8</text>
<text x="24.1" y="150.88" font-size="6.6" text-anchor="end" fill="#505050">1</text>
<text x="0" y="0" font-size="6.4" text-anchor="middle" fill="#505050" transform="translate(11.6,196.1) rotate(-90)"><tspan font-style="italic">&#961;</tspan>(<tspan font-style="italic">&#964;</tspan>)</text>
<text x="100.6" y="259.3" font-size="5.6" text-anchor="middle" fill="#505050" font-style="italic">&#964;</text>
<text x="94.7" y="272.6" font-size="5.4" text-anchor="middle" fill="#222" font-weight="bold" class="cap">(d)</text>
<rect x="128.2" y="221.5" width="38.6" height="19.9" fill="#fff" stroke="#2a2a2a" stroke-width="0.9"/>
<line x1="129.8" y1="225.1" x2="143.7" y2="225.1" stroke="#ff0000" stroke-width="1.3"/>
<circle cx="137" cy="225.1" r="1.35" fill="#ff0000"/>
<text x="144.7" y="227.12" font-size="5.6" text-anchor="start" fill="#4a4a4a" class="lg">SSHS</text>
<line x1="129.8" y1="231.9" x2="143.7" y2="231.9" stroke="#0000ff" stroke-width="1.3"/>
<circle cx="137" cy="231.9" r="1.35" fill="#0000ff"/>
<text x="144.7" y="233.92" font-size="5.6" text-anchor="start" fill="#4a4a4a" class="lg">ASSA1</text>
<line x1="129.8" y1="238.1" x2="143.7" y2="238.1" stroke="#00ff00" stroke-width="1.3"/>
<circle cx="137" cy="238.1" r="1.35" fill="#00ff00"/>
<text x="144.7" y="240.12" font-size="5.6" text-anchor="start" fill="#4a4a4a" class="lg">SSGM1</text>
<line x1="218.2" y1="145.4" x2="218.2" y2="242.5" stroke="#dcdcdc" stroke-width="0.6"/>
<line x1="242.5" y1="145.4" x2="242.5" y2="242.5" stroke="#dcdcdc" stroke-width="0.6"/>
<line x1="266.6" y1="145.4" x2="266.6" y2="242.5" stroke="#dcdcdc" stroke-width="0.6"/>
<line x1="291.7" y1="145.4" x2="291.7" y2="242.5" stroke="#dcdcdc" stroke-width="0.6"/>
<line x1="315.6" y1="145.4" x2="315.6" y2="242.5" stroke="#dcdcdc" stroke-width="0.6"/>
<line x1="339.9" y1="145.4" x2="339.9" y2="242.5" stroke="#dcdcdc" stroke-width="0.6"/>
<line x1="363.7" y1="145.4" x2="363.7" y2="242.5" stroke="#dcdcdc" stroke-width="0.6"/>
<line x1="218.2" y1="242.5" x2="363.7" y2="242.5" stroke="#dcdcdc" stroke-width="0.6"/>
<line x1="218.2" y1="226.8" x2="363.7" y2="226.8" stroke="#dcdcdc" stroke-width="0.6"/>
<line x1="218.2" y1="210.7" x2="363.7" y2="210.7" stroke="#dcdcdc" stroke-width="0.6"/>
<line x1="218.2" y1="194.5" x2="363.7" y2="194.5" stroke="#dcdcdc" stroke-width="0.6"/>
<line x1="218.2" y1="178.4" x2="363.7" y2="178.4" stroke="#dcdcdc" stroke-width="0.6"/>
<line x1="218.2" y1="162.2" x2="363.7" y2="162.2" stroke="#dcdcdc" stroke-width="0.6"/>
<line x1="218.2" y1="145.4" x2="363.7" y2="145.4" stroke="#dcdcdc" stroke-width="0.6"/>
<rect x="218.2" y="145.4" width="145.5" height="97.1" fill="none" stroke="#555555" stroke-width="1.1"/>
<line x1="218.2" y1="242.5" x2="218.2" y2="241" stroke="#555555" stroke-width="0.8"/>
<line x1="218.2" y1="145.4" x2="218.2" y2="146.9" stroke="#555555" stroke-width="0.8"/>
<line x1="242.5" y1="242.5" x2="242.5" y2="241" stroke="#555555" stroke-width="0.8"/>
<line x1="242.5" y1="145.4" x2="242.5" y2="146.9" stroke="#555555" stroke-width="0.8"/>
<line x1="266.6" y1="242.5" x2="266.6" y2="241" stroke="#555555" stroke-width="0.8"/>
<line x1="266.6" y1="145.4" x2="266.6" y2="146.9" stroke="#555555" stroke-width="0.8"/>
<line x1="291.7" y1="242.5" x2="291.7" y2="241" stroke="#555555" stroke-width="0.8"/>
<line x1="291.7" y1="145.4" x2="291.7" y2="146.9" stroke="#555555" stroke-width="0.8"/>
<line x1="315.6" y1="242.5" x2="315.6" y2="241" stroke="#555555" stroke-width="0.8"/>
<line x1="315.6" y1="145.4" x2="315.6" y2="146.9" stroke="#555555" stroke-width="0.8"/>
<line x1="339.9" y1="242.5" x2="339.9" y2="241" stroke="#555555" stroke-width="0.8"/>
<line x1="339.9" y1="145.4" x2="339.9" y2="146.9" stroke="#555555" stroke-width="0.8"/>
<line x1="363.7" y1="242.5" x2="363.7" y2="241" stroke="#555555" stroke-width="0.8"/>
<line x1="363.7" y1="145.4" x2="363.7" y2="146.9" stroke="#555555" stroke-width="0.8"/>
<line x1="218.2" y1="242.5" x2="219.7" y2="242.5" stroke="#555555" stroke-width="0.8"/>
<line x1="363.7" y1="242.5" x2="362.2" y2="242.5" stroke="#555555" stroke-width="0.8"/>
<line x1="218.2" y1="226.8" x2="219.7" y2="226.8" stroke="#555555" stroke-width="0.8"/>
<line x1="363.7" y1="226.8" x2="362.2" y2="226.8" stroke="#555555" stroke-width="0.8"/>
<line x1="218.2" y1="210.7" x2="219.7" y2="210.7" stroke="#555555" stroke-width="0.8"/>
<line x1="363.7" y1="210.7" x2="362.2" y2="210.7" stroke="#555555" stroke-width="0.8"/>
<line x1="218.2" y1="194.5" x2="219.7" y2="194.5" stroke="#555555" stroke-width="0.8"/>
<line x1="363.7" y1="194.5" x2="362.2" y2="194.5" stroke="#555555" stroke-width="0.8"/>
<line x1="218.2" y1="178.4" x2="219.7" y2="178.4" stroke="#555555" stroke-width="0.8"/>
<line x1="363.7" y1="178.4" x2="362.2" y2="178.4" stroke="#555555" stroke-width="0.8"/>
<line x1="218.2" y1="162.2" x2="219.7" y2="162.2" stroke="#555555" stroke-width="0.8"/>
<line x1="363.7" y1="162.2" x2="362.2" y2="162.2" stroke="#555555" stroke-width="0.8"/>
<line x1="218.2" y1="145.4" x2="219.7" y2="145.4" stroke="#555555" stroke-width="0.8"/>
<line x1="363.7" y1="145.4" x2="362.2" y2="145.4" stroke="#555555" stroke-width="0.8"/>
<polyline points="218.2,145.3 330.3,145.3 330.4,194.4 333.2,195.4 343,197.2 345.1,200.1 348,203.7 353.8,205.1 359.5,206.6 362.1,208.7 363.6,211.6" fill="none" stroke="#00ff00" stroke-width="1.4" stroke-linejoin="round"/>
<polyline points="257.3,145.3 257.6,165.8 260.8,166.8 264.4,167.9 265.8,170.1 267,174.4 268,178.7 275.9,179 279.5,180.1 280.9,182.3 284.5,182.7 286,188.8 287.1,194.2 289.6,195 300.1,196.8 305.8,198.2 313,198.7 324.5,199.7 328.1,202 331.7,203 336.5,204.4 346.6,205.9 353,206.6 354.5,212.3 355.5,218.4 356.7,223 358.4,225.1 360.3,228 363.1,229.4 363.6,229.6" fill="none" stroke="#0072bd" stroke-width="1.4" stroke-linejoin="round"/>
<polyline points="218.4,145.6 221.8,146.2 225.1,150.9 226.5,156.4 228,162.1 229.4,165.7 236.6,166.5 243.8,167.2 249.5,168.6 252.4,170.8 254.6,175.1 256.7,178.3 260.1,179.1 268.7,179.4 270.9,181.6 275.2,182.3 276.6,185.9 278.1,190.9 279.5,193.8 283.1,194.5 293.2,196 298.6,197.2 304.4,198.7 314.5,199.8 317.3,200.8 324.5,202 330.3,204.4 342.3,206.3 344.4,208 345.1,213.8 345.9,219.5 346.6,223 348.7,224.4 350.9,227.3 354.5,228.7 358.1,230.1 361,231.6 363.1,232.3 363.6,238.8" fill="none" stroke="#ff0000" stroke-width="1.4" stroke-linejoin="round"/>
<text x="218.2" y="250.4" font-size="5" text-anchor="middle" fill="#505050">0</text>
<text x="242.5" y="250.4" font-size="5" text-anchor="middle" fill="#505050">20</text>
<text x="266.6" y="250.4" font-size="5" text-anchor="middle" fill="#505050">40</text>
<text x="291.7" y="250.4" font-size="5" text-anchor="middle" fill="#505050">60</text>
<text x="315.6" y="250.4" font-size="5" text-anchor="middle" fill="#505050">80</text>
<text x="339.9" y="250.4" font-size="5" text-anchor="middle" fill="#505050">100</text>
<text x="363.7" y="250.4" font-size="5" text-anchor="middle" fill="#505050">120</text>
<text x="215.8" y="148.7" font-size="5" text-anchor="end" fill="#505050">10<tspan font-size="3.6" dx="0.5" dy="-2.1">10</tspan></text>
<text x="215.8" y="181.7" font-size="5" text-anchor="end" fill="#505050">10<tspan font-size="3.6" dx="0.5" dy="-2.1">0</tspan></text>
<text x="215.8" y="214" font-size="5" text-anchor="end" fill="#505050">10<tspan font-size="3.6" dx="0.5" dy="-2.1">-10</tspan></text>
<text x="215.8" y="245.8" font-size="5" text-anchor="end" fill="#505050">10<tspan font-size="3.6" dx="0.5" dy="-2.1">-20</tspan></text>
<text x="0" y="0" font-size="5.5" text-anchor="start" fill="#505050" transform="translate(197.6,205.8) rotate(-90)">log<tspan font-size="3.8" dy="1.4">10</tspan><tspan dy="-1.4" font-size="6" letter-spacing="0.5"> |c|</tspan><tspan font-size="3.8" dy="-2.6">2</tspan></text>
<text x="290.2" y="255.6" font-size="5.6" text-anchor="middle" fill="#505050"><tspan font-style="italic">r</tspan><tspan font-size="4" dy="-2">*</tspan></text>
<text x="294.2" y="273.3" font-size="5.4" text-anchor="middle" fill="#222" font-weight="bold" class="cap">(e)</text>
<rect x="294.7" y="222.4" width="35.2" height="18.2" fill="#fff" stroke="#2a2a2a" stroke-width="0.9"/>
<line x1="296.2" y1="225.9" x2="309.9" y2="225.9" stroke="#ff0000" stroke-width="1.5"/>
<text x="311.2" y="227.59" font-size="4.7" text-anchor="start" fill="#4a4a4a" class="lg">SSHS</text>
<line x1="296.2" y1="231.5" x2="309.9" y2="231.5" stroke="#0072bd" stroke-width="1.5"/>
<text x="311.2" y="233.19" font-size="4.7" text-anchor="start" fill="#4a4a4a" class="lg">ASSA1</text>
<line x1="296.2" y1="237.1" x2="309.9" y2="237.1" stroke="#00ff00" stroke-width="1.5"/>
<text x="311.2" y="238.79" font-size="4.7" text-anchor="start" fill="#4a4a4a" class="lg">SSGM1</text>
</svg>
</body></html>
